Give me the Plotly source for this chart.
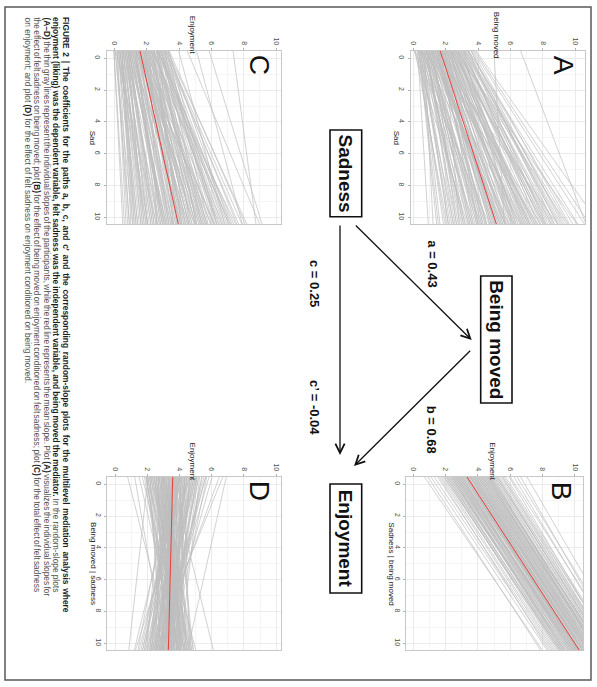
import plotly.graph_objects as go

W, H = 597, 687

# values at predictor = 0 and predictor = 10
# A: felt sadness -> being moved
a_at0 = [0.3, 1.2, 2.5, 0.8, 1.9, 3.1, 0.5, 1.6, 2.2, 3.8,
         1.0, 0.4, 2.8, 1.4, 3.5, 2.0, 0.9, 1.7, 2.6, 0.6,
         3.2, 1.1, 2.3, 0.7, 1.5, 3.9, 2.1, 0.2, 1.8, 2.9,
         1.3, 3.4, 0.5, 2.4, 1.6, 0.9, 3.0, 1.9, 2.7, 4.0,
         0.8, 1.4, 2.2, 3.6, 1.0, 0.3, 2.5, 1.7, 3.3, 1.2,
         2.0, 0.6, 3.7, 1.5, 2.8, 0.4, 1.9, 2.6, 1.1, 3.1,
         0.7, 2.3, 1.3, 3.5, 0.9, 2.1, 1.8, 0.5, 2.9, 1.6,
         3.8, 1.0, 2.4, 0.2, 1.4, 3.2, 2.0, 0.8, 2.7, 1.2,
         4.1, 1.7, 0.6, 2.5, 3.0, 1.5, 0.4, 2.2, 1.9, 3.4,
         1.1, 2.8, 0.7, 5.0, 6.8, 4.2, 1.3, 2.6, 0.9, 3.6,
         0.6, 1.3, 2.0, 2.7, 3.3, 0.9, 1.6, 2.3, 3.0, 1.1,
         1.8, 2.5, 3.2, 0.4, 1.5, 2.1, 2.9, 3.6, 1.0, 1.7,
         2.4, 3.1, 0.7, 1.4, 2.2, 2.8, 3.4, 1.2, 1.9, 2.6,
         0.5, 1.3, 2.0, 3.7, 2.7, 1.6, 0.8, 2.3, 3.0, 1.1,
         1.8, 2.5, 0.3, 1.5, 2.9, 3.3, 1.0, 2.1, 1.7, 2.4]
a_at10 = [4.5, 6.0, 7.2, 3.0, 5.5, 8.4, 2.2, 4.9, 6.3, 9.0,
          3.8, 1.5, 7.8, 5.2, 8.8, 4.4, 2.7, 6.6, 5.9, 3.3,
          8.1, 4.0, 6.9, 1.2, 5.0, 9.4, 3.6, 2.0, 7.0, 6.2,
          4.7, 7.5, 3.1, 5.6, 8.6, 2.5, 9.2, 4.2, 6.8, 10.3,
          2.9, 5.3, 3.9, 8.0, 6.4, 0.9, 5.8, 4.6, 7.7, 3.4,
          6.1, 2.3, 9.6, 4.8, 7.1, 1.8, 5.1, 8.3, 3.7, 6.7,
          4.3, 5.4, 2.6, 8.9, 3.5, 7.3, 6.5, 1.6, 9.8, 4.1,
          8.5, 5.7, 4.9, 3.2, 7.4, 6.0, 2.8, 5.5, 8.2, 4.4,
          10.6, 3.9, 2.1, 6.3, 7.9, 5.0, 1.4, 4.7, 7.6, 9.3,
          3.3, 6.6, 4.0, 5.6, 10.5, 11.2, 5.2, 7.0, 2.4, 8.7,
          3.6, 5.1, 6.4, 7.3, 8.0, 2.8, 4.6, 5.9, 7.6, 3.9,
          5.3, 6.8, 8.5, 2.4, 4.2, 5.7, 7.0, 9.1, 3.1, 4.9,
          6.2, 7.9, 2.6, 4.4, 5.5, 6.9, 8.7, 3.5, 5.0, 6.5,
          2.1, 3.8, 5.4, 9.9, 7.2, 4.7, 3.0, 6.0, 7.4, 4.1,
          5.6, 6.7, 1.9, 4.3, 7.8, 8.3, 3.4, 5.2, 4.8, 6.1]
a_mean = [1.81, 4.99]

# B: being moved (given sadness) -> enjoyment
b_at0 = [3.6, 2.4, 4.8, 1.9, 5.5, 3.0, 4.1, 2.8, 6.2, 3.4,
         1.2, 4.5, 3.8, 2.2, 5.1, 3.3, 4.7, 2.6, 5.8, 3.9,
         1.6, 4.3, 3.1, 5.3, 2.9, 4.0, 6.5, 3.5, 2.1, 4.9,
         3.7, 5.0, 2.5, 4.4, 1.0, 3.2, 5.6, 4.2, 2.7, 3.6,
         6.9, 4.6, 3.0, 2.3, 5.2, 3.9, 4.8, 1.8, 4.1, 3.4,
         5.9, 2.8, 4.3, 3.6, 7.3, 2.0, 4.5, 3.1, 5.4, 3.8,
         2.6, 4.9, 3.3, 6.0, 4.0, 2.4, 5.0, 3.7, 4.6, 1.4,
         3.5, 5.7, 4.2, 2.9, 3.9, 6.3, 3.2, 4.7, 2.2, 5.1,
         4.4, 3.0, 5.5, 3.6, 2.7, 4.1, 6.7, 3.8, 4.9, 3.3,
         3.2, 4.0, 2.7, 4.6, 3.5, 5.2, 2.9, 4.3, 3.8, 5.0,
         2.5, 3.6, 4.8, 3.1, 4.4, 5.5, 2.8, 3.9, 4.6, 3.3,
         4.1, 2.6, 5.3, 3.7, 4.5, 3.0, 4.9, 3.4, 4.2, 2.3,
         5.8, 3.6, 4.7, 3.1, 4.0, 2.9, 5.1, 3.8, 4.4, 3.5,
         2.4, 4.3, 3.2, 5.4, 3.9, 4.8, 2.7, 4.1, 3.6, 5.0]
b_at10 = [10.0, 8.9, 11.0, 8.1, 11.6, 9.8, 10.5, 9.0, 12.0, 9.7,
          7.6, 10.9, 10.2, 8.8, 11.3, 9.4, 11.2, 9.1, 11.9, 10.6,
          8.2, 10.4, 9.5, 11.5, 9.6, 10.1, 12.4, 9.9, 8.5, 11.1,
          10.3, 11.4, 9.2, 10.8, 7.7, 9.6, 11.8, 10.7, 8.9, 9.9,
          12.5, 10.9, 9.4, 8.6, 11.0, 10.5, 11.1, 8.3, 10.2, 10.0,
          12.1, 9.5, 10.6, 9.8, 13.0, 8.4, 10.7, 9.7, 11.7, 10.1,
          9.3, 11.2, 9.9, 12.2, 10.4, 8.7, 11.3, 10.0, 10.8, 8.0,
          9.8, 11.9, 10.3, 9.1, 10.5, 12.6, 9.6, 10.9, 8.8, 11.4,
          10.7, 9.2, 11.6, 10.2, 9.0, 10.6, 12.8, 10.0, 11.0, 9.5,
          9.7, 10.3, 9.1, 11.1, 9.8, 11.5, 9.4, 10.8, 10.1, 11.3,
          8.8, 10.0, 11.2, 9.6, 10.7, 11.9, 9.3, 10.2, 10.9, 9.8,
          10.5, 9.0, 11.6, 10.2, 10.8, 9.5, 11.2, 9.9, 10.6, 8.7,
          12.1, 9.9, 11.0, 9.6, 10.4, 9.3, 11.4, 10.3, 10.7, 9.9,
          8.9, 10.6, 9.7, 11.8, 10.2, 11.1, 9.1, 10.5, 10.0, 11.4]
b_mean = [3.62, 9.99]

# C: felt sadness -> enjoyment (total effect)
c_at0 = [0.2, 1.5, 2.8, 0.9, 2.1, 3.3, 0.5, 1.8, 2.5, 1.1,
         3.0, 0.0, 1.4, 2.2, 0.7, 3.5, 1.9, 2.6, 1.2, 0.4,
         2.0, 3.1, 0.8, 1.6, 2.9, 0.3, 1.3, 2.4, 3.4, 1.0,
         1.7, 0.6, 2.7, 2.0, 0.1, 1.5, 3.2, 0.9, 2.3, 1.8,
         0.5, 2.6, 1.1, 3.0, 1.4, 0.2, 2.1, 2.8, 0.7, 1.6,
         3.4, 1.2, 0.4, 2.5, 1.9, 0.8, 2.9, 1.3, 3.1, 0.6,
         2.2, 1.0, 1.7, 2.7, 0.3, 3.3, 1.5, 2.0, 0.9, 2.4,
         1.1, 3.6, 0.5, 1.8, 2.6, 1.4, 0.0, 2.3, 3.0, 1.2,
         4.1, 4.7, 5.2, 6.0, 7.4, 1.6, 2.8, 0.7, 2.1, 1.9,
         0.4, 3.2, 1.3, 2.5, 0.8, 1.7, 2.9, 1.0, 3.5, 2.2,
         0.3, 1.0, 1.7, 2.4, 3.1, 0.6, 1.3, 2.0, 2.7, 3.4,
         0.9, 1.6, 2.3, 3.0, 0.2, 1.2, 1.9, 2.6, 3.3, 0.7,
         1.4, 2.1, 2.8, 0.4, 1.1, 1.8, 2.5, 3.2, 0.8, 1.5,
         2.2, 2.9, 0.5, 1.0, 1.7, 2.4, 3.5, 0.1, 1.3, 2.0,
         2.7, 0.6, 1.6, 2.3, 3.0, 0.9, 1.4, 2.6, 1.9, 0.3]
c_at10 = [2.5, 4.8, 6.9, 1.7, 3.6, 7.5, 1.0, 5.3, 3.9, 2.9,
          6.2, 0.6, 4.0, 5.6, 2.1, 8.0, 3.3, 6.5, 2.7, 1.3,
          4.5, 5.0, 3.0, 6.0, 7.2, 0.9, 3.7, 4.9, 7.7, 2.3,
          5.8, 1.8, 4.3, 3.5, 1.1, 5.1, 6.6, 2.6, 7.0, 4.1,
          1.5, 5.5, 3.1, 4.6, 2.8, 0.7, 6.3, 3.8, 2.2, 4.4,
          5.7, 3.4, 1.4, 7.3, 4.2, 2.0, 5.9, 3.2, 6.8, 1.9,
          4.7, 2.4, 5.2, 3.6, 1.2, 6.1, 3.9, 5.4, 2.5, 4.0,
          3.0, 7.9, 1.6, 4.8, 6.4, 2.9, 0.5, 3.7, 5.6, 4.3,
          6.7, 8.8, 7.8, 9.0, 8.7, 3.3, 5.0, 2.7, 4.5, 6.0,
          2.0, 5.3, 3.5, 4.1, 1.8, 4.9, 7.1, 3.1, 6.2, 2.6,
          1.9, 3.1, 4.4, 5.5, 6.3, 1.2, 2.8, 3.6, 5.0, 7.4,
          2.3, 4.0, 4.9, 6.5, 0.8, 3.3, 3.9, 5.8, 6.9, 1.6,
          2.6, 4.6, 5.2, 1.4, 3.0, 4.3, 5.4, 6.0, 2.0, 3.5,
          4.7, 6.2, 1.1, 2.4, 3.8, 4.1, 7.0, 0.9, 2.9, 4.5,
          5.6, 1.7, 3.2, 5.1, 6.7, 2.2, 3.4, 5.3, 4.2, 1.3]
c_mean = [1.69, 3.86]

# D: felt sadness -> enjoyment, given being moved
d_at0 = [3.5, 2.4, 4.6, 3.0, 5.2, 2.0, 3.9, 4.3, 2.7, 3.3,
         5.6, 3.7, 2.2, 4.0, 3.1, 4.8, 2.5, 3.6, 4.4, 1.9,
         3.8, 2.9, 5.0, 3.4, 4.2, 2.6, 3.2, 4.7, 2.1, 3.9,
         0.9, 4.5, 3.0, 5.4, 2.8, 3.6, 4.1, 2.3, 3.5, 6.8,
         4.9, 3.3, 2.5, 3.8, 4.4, 1.8, 3.1, 5.7, 2.9, 4.0,
         3.6, 2.2, 4.6, 3.4, 2.7, 5.1, 3.9, 2.0, 4.3, 3.2,
         6.3, 3.7, 2.4, 4.8, 3.0, 4.1, 2.6, 3.5, 5.3, 3.8,
         1.3, 4.2, 3.3, 2.8, 4.5, 3.6, 5.9, 2.3, 3.9, 4.0,
         3.1, 4.7, 2.5, 3.4, 6.5, 2.9, 3.7, 4.9, 2.1, 3.5,
         4.3, 3.0, 5.5, 2.7, 3.8, 1.6, 4.4, 3.2, 5.0, 2.0,
         3.4, 2.8, 4.1, 3.7, 2.3, 4.5, 3.0, 3.9, 5.0, 2.6,
         3.5, 4.3, 3.1, 2.1, 4.7, 3.8, 2.9, 4.0, 3.3, 5.3,
         2.5, 3.6, 4.4, 3.2, 2.7, 4.9, 3.9, 3.0, 4.2, 2.4,
         3.7, 4.6, 3.4, 2.2, 4.0, 3.5, 5.1, 2.8, 3.8, 4.3,
         3.1, 2.6, 4.8, 3.6, 2.9, 4.1, 3.3, 5.5, 2.0, 3.9]
d_at10 = [3.2, 3.8, 2.9, 2.5, 4.1, 3.4, 1.9, 4.6, 3.0, 2.2,
          3.6, 4.3, 2.8, 1.6, 3.9, 2.4, 4.0, 3.1, 2.6, 3.5,
          4.8, 2.0, 3.3, 4.4, 1.8, 3.7, 2.7, 3.0, 4.2, 2.3,
          3.4, 1.4, 3.9, 2.9, 4.5, 2.1, 3.6, 4.9, 3.2, 4.6,
          2.8, 4.0, 3.5, 1.7, 3.1, 4.2, 2.5, 2.9, 3.8, 4.7,
          2.2, 3.3, 3.9, 1.5, 4.4, 3.0, 2.6, 3.6, 2.0, 4.1,
          2.7, 3.4, 4.6, 3.1, 2.3, 3.8, 4.3, 1.9, 3.5, 2.8,
          3.0, 4.1, 2.4, 3.7, 3.3, 6.0, 3.1, 3.9, 2.6, 4.4,
          3.6, 2.1, 4.2, 3.2, 2.5, 3.8, 1.3, 3.4, 4.5, 2.9,
          3.0, 4.8, 2.7, 3.5, 1.8, 3.9, 2.3, 4.0, 3.3, 0.9,
          3.1, 3.6, 2.7, 4.0, 3.3, 2.5, 4.2, 2.9, 3.5, 3.8,
          2.3, 3.4, 4.5, 3.0, 2.8, 3.9, 4.3, 2.6, 3.7, 3.2,
          4.1, 2.9, 3.3, 4.6, 3.6, 2.4, 3.0, 4.4, 3.1, 3.8,
          2.7, 3.5, 4.0, 3.9, 2.2, 3.3, 3.7, 4.2, 2.6, 3.4,
          4.7, 3.2, 2.8, 3.6, 4.1, 2.9, 3.5, 3.0, 3.8, 2.5]
d_mean = [3.57, 3.32]

ticks = [0, 2, 4, 6, 8, 10]


def px_x(p):
    return p / W


def px_y(p):
    return 1 - p / H


def slope_lines(at0, at10, lo=-1.0, hi=11.0):
    # straight random-slope lines, run past the panel edges like abline
    xs, ys = [], []
    for s, e in zip(at0, at10):
        k = (e - s) / 10
        xs += [s + k * lo, s + k * hi, None]
        ys += [lo, hi, None]
    return xs, ys


def note(px, py, text, size, color="#111", xanchor="center", yanchor="middle", **kw):
    return dict(x=px_x(px), y=px_y(py), xref="paper", yref="paper", text=text, textangle=90,
                xanchor=xanchor, yanchor=yanchor, showarrow=False,
                font=dict(family="Liberation Sans", size=size, color=color), **kw)


# lines, mean, x px span, y px span, value range, letter, value-axis title, predictor-axis title
panels = [
    (a_at0, a_at10, a_mean, (410.7, 585), (50.7, 224), [-0.16, 10.6], "A", "Being moved", "Sad"),
    (b_at0, b_at10, b_mean, (406, 583), (476.7, 650), [-0.45, 10.5], "B", "Enjoyment", "Sadness | being moved"),
    (c_at0, c_at10, c_mean, (106.7, 281), (50.7, 224), [-0.47, 10.3], "C", "Enjoyment", "Sad"),
    (d_at0, d_at10, d_mean, (107.3, 281), (476.7, 650), [-0.48, 10.3], "D", "Enjoyment", "Being moved | sadness"),
]

fig = go.Figure()
annotations = []
layout_axes = {}

for n, (at0, at10, mean, xs_px, ys_px, vrange, letter, vtitle, ptitle) in enumerate(panels, start=1):
    sfx = "" if n == 1 else str(n)
    gx, gy = slope_lines(at0, at10)
    fig.add_trace(go.Scatter(x=gx, y=gy, mode="lines", xaxis="x" + sfx, yaxis="y" + sfx,
                             line=dict(color="#bebebe", width=0.7), hoverinfo="skip",
                             showlegend=False))
    mx, my = slope_lines([mean[0]], [mean[1]])
    fig.add_trace(go.Scatter(x=mx, y=my, mode="lines", xaxis="x" + sfx, yaxis="y" + sfx,
                             line=dict(color="#e8413c", width=1), hoverinfo="skip",
                             showlegend=False))
    common = dict(tickvals=ticks, tickangle=90, tickfont=dict(family="Liberation Sans", size=7, color="#4d4d4d"),
                  ticks="outside", ticklen=2, tickcolor="#b0b0b0", showline=True, mirror=True,
                  linecolor="#c8c8c8", linewidth=1, showgrid=True, gridcolor="#ebebeb", gridwidth=0.7,
                  minor=dict(tick0=0, dtick=1, showgrid=True, gridcolor="#f5f5f5", gridwidth=0.5),
                  zeroline=False, fixedrange=True, automargin=False)
    layout_axes["xaxis" + sfx] = dict(domain=[px_x(xs_px[0]), px_x(xs_px[1])], range=vrange,
                                      side="top", anchor="y" + sfx, **common)
    layout_axes["yaxis" + sfx] = dict(domain=[px_y(ys_px[1]), px_y(ys_px[0])], range=[10.42, -0.48],
                                      anchor="x" + sfx, **common)
    # rotated axis titles and panel letter
    annotations.append(note((xs_px[0] + xs_px[1]) / 2 - 2, ys_px[0] - 15, vtitle, 8, "#222"))
    annotations.append(note(xs_px[0] - 14, (ys_px[0] + ys_px[1]) / 2, ptitle, 8, "#222"))
    annotations.append(note(xs_px[1] - 22, ys_px[0] + 14, letter, 28))

fig.update_layout(**layout_axes)

# mediation diagram
boxes = [("Sadness", (330, 361.7), (130, 216.7)),
         ("Being moved", (480.7, 512), (276, 403)),
         ("Enjoyment", (330, 361.7), (484, 593))]
shapes = []
for label, bx, by in boxes:
    shapes.append(dict(type="rect", xref="paper", yref="paper", x0=px_x(bx[0]), x1=px_x(bx[1]),
                       y0=px_y(by[1]), y1=px_y(by[0]), line=dict(color="#111", width=1.6)))
    annotations.append(note((bx[0] + bx[1]) / 2, (by[0] + by[1]) / 2, "<b>" + label + "</b>", 19))

# arrows: (tail px, head px)
arrows = [((354.3, 224), (471.7, 340)),
          ((340, 224), (340, 455)),
          ((471.7, 349.3), (354, 466))]
for (tx, ty), (hx, hy) in arrows:
    annotations.append(dict(x=px_x(hx), y=px_y(hy), xref="paper", yref="paper", axref="pixel", ayref="pixel",
                            ax=tx - hx, ay=ty - hy, text="", showarrow=True,
                            arrowhead=5, arrowsize=1.4, arrowwidth=1.3, arrowcolor="#111", standoff=0))

path_labels = [("a = 0.43", 432.7, 264), ("c = 0.25", 315, 283),
               ("c’ = -0.04", 315, 407), ("b = 0.68", 432.3, 430)]
for txt, lx, ly in path_labels:
    annotations.append(note(lx, ly, "<b>" + txt + "</b>", 13))

# caption, one annotation per printed line (first line is rightmost once rotated)
B = '<span style="color:#1e1e1e"><b>'
E = '</b></span>'
caption_lines = [
    B + "FIGURE 2 | The coefficients for the paths a, b, c, and c′ and the corresponding random-slope plots for the multilevel mediation analysis where" + E,
    B + "enjoyment (liking) was the dependent variable, felt sadness was the independent variable, and being moved the mediator." + E + " In the random-slope plots",
    B + "(A–D)" + E + " the thin gray lines represent the individual slopes of the participants, while the red line represents the mean slope. Plot " + B + "(A)" + E + " visualizes the individual slopes for",
    "the effect of felt sadness on being moved; plot " + B + "(B)" + E + " for the effect of being moved on enjoyment conditioned on felt sadness; plot " + B + "(C)" + E + " for the total effect of felt sadness",
    "on enjoyment; and plot " + B + "(D)" + E + " for the effect of felt sadness on enjoyment conditioned on being moved.",
]
caption_x = [66, 56.5, 47, 37.2, 27.5]
caption_spacing = [1.4, -0.25, -1.0, -1.0, 0]  # justified block in the original
for line, cx, ws in zip(caption_lines, caption_x, caption_spacing):
    annotations.append(note(cx, 15, '<span style="word-spacing:%.2fpx">%s</span>' % (ws, line), 8.4, "#505050",
                            yanchor="top", align="left"))

# outer frame
shapes.append(dict(type="rect", xref="paper", yref="paper", x0=px_x(5), x1=px_x(591), y0=px_y(680), y1=px_y(7),
                   line=dict(color="#5a5a5a", width=1.5)))

fig.update_layout(width=W, height=H, margin=dict(l=0, r=0, t=0, b=0), paper_bgcolor="white",
                  plot_bgcolor="white", annotations=annotations, shapes=shapes, showlegend=False)

# page body has a default 8px margin; drop it so the figure sits at the window corner
fig.write_html("out.html", config={"displayModeBar": False},
               post_script="document.body.style.margin='0';")
